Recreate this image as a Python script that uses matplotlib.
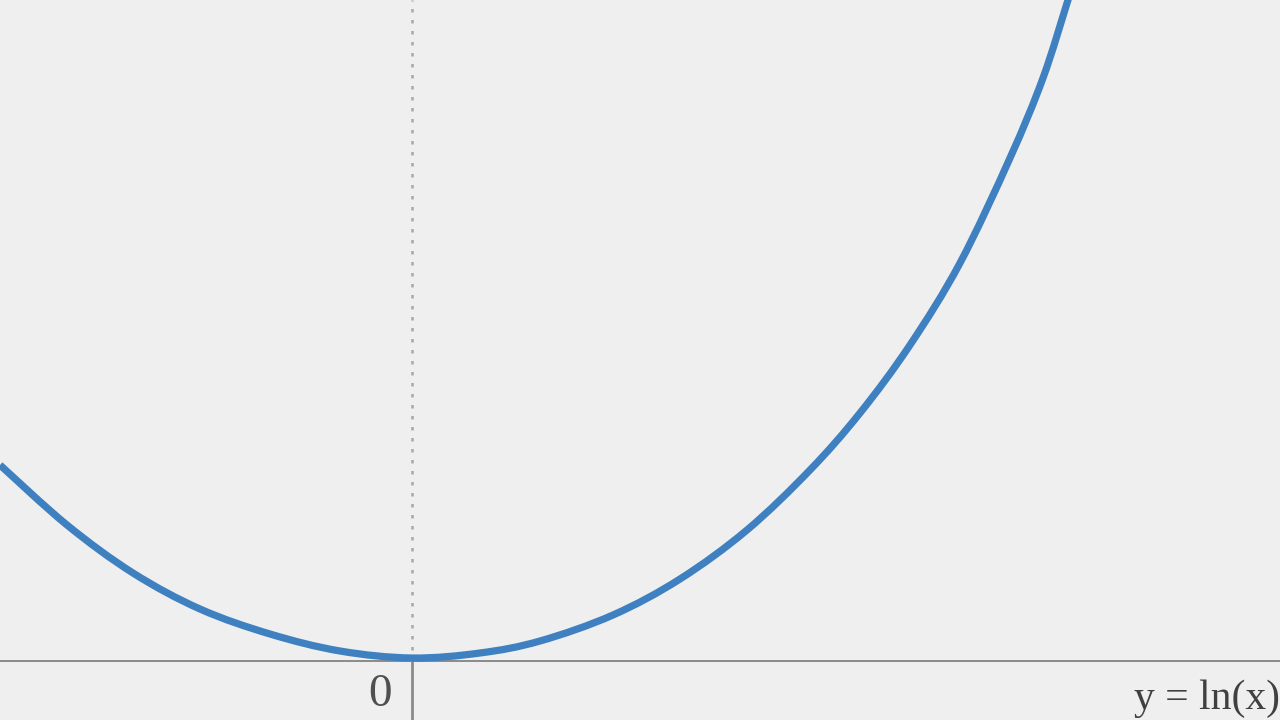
import numpy as np
import matplotlib.pyplot as plt
from matplotlib.path import Path
from matplotlib.patches import PathPatch

# curve (x: 0 at the tick, y: 0 on the axis line)
curve_x = [-4.12, -3.45, -2.79, -2.12, -1.42, -0.72, 0.0,
           0.68, 1.28, 2.01, 2.68, 3.35, 3.98, 4.48, 4.98,
           5.48, 5.98, 6.31, 6.56, 6.68]
curve_y = [1.96, 1.36, 0.88, 0.52, 0.27, 0.10, 0.03,
           0.08, 0.20, 0.46, 0.82, 1.31, 1.91, 2.48, 3.16,
           3.98, 5.03, 5.83, 6.61, 6.99]

tick_label = "0"
func_label = "y = ln(x)"

bg = "#efefef"
fig = plt.figure(figsize=(12.8, 7.2), dpi=100, facecolor=bg)
ax = fig.add_axes([0, 0, 1, 1])
ax.set_facecolor(bg)
ax.set_xlim(-4.12, 8.68)
ax.set_ylim(-0.59, 6.61)
ax.axis("off")

#axis line and the tick at 0
ax.axhline(0, color="#7a7a7a", lw=1.2, zorder=1)
ax.plot([0, 0], [0, 6.61], color="#a8a8a8", lw=1.8, ls=(0, (1.4, 3.0)), zorder=1)
ax.plot([0, 0], [-0.59, 0], color="#8a8a8a", lw=2, zorder=1)

# smooth the read points with catmull-rom -> bezier segments
pts = np.column_stack([curve_x, curve_y])
verts = [pts[0]]
codes = [Path.MOVETO]
for i in range(len(pts) - 1):
    p0 = pts[max(i - 1, 0)]
    p1 = pts[i]
    p2 = pts[i + 1]
    p3 = pts[min(i + 2, len(pts) - 1)]
    verts += [p1 + (p2 - p0) / 6, p2 - (p3 - p1) / 6, p2]
    codes += [Path.CURVE4] * 3
curve = PathPatch(Path(verts, codes), fill=False, edgecolor="#3f80c0", lw=5.2,
                  capstyle="butt", joinstyle="round", zorder=3)
ax.add_patch(curve)

ax.text(-0.2, -0.34, tick_label, family="Liberation Serif", fontsize=34,
        color="#505050", ha="right", va="center")
ax.text(8.68, -0.38, func_label, family="Liberation Serif", fontsize=30,
        color="#404040", ha="right", va="center")

fig.savefig("out.png", dpi=100, facecolor=bg)
